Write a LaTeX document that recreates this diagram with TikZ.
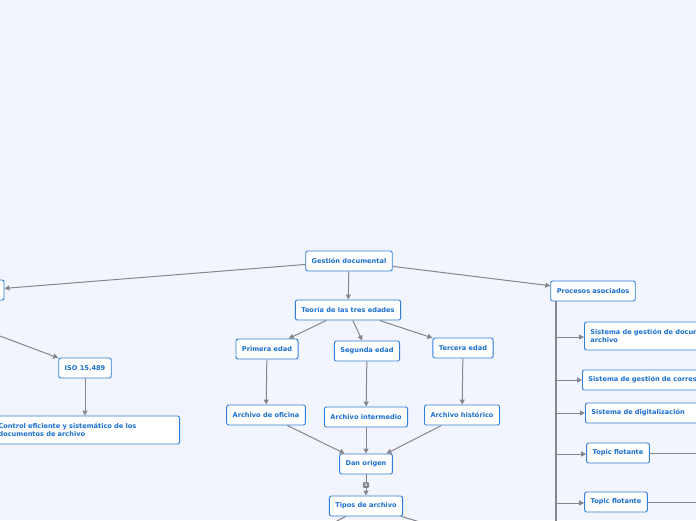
\documentclass[tikz,border=0pt]{standalone}
\usepackage{fontspec}
\setsansfont{DejaVu Sans}
\usetikzlibrary{arrows.meta}
\definecolor{bg}{HTML}{F2F5FE}
\definecolor{nb}{HTML}{2F7FD8}
\definecolor{nt}{HTML}{1A6FD1}
\definecolor{ln}{HTML}{85868C}
\tikzset{
 box/.style={draw=nb,line width=0.9pt,fill=white,rounded corners=2pt,font=\sffamily\bfseries\fontsize{6.6}{8}\selectfont,text=nt,inner xsep=6pt,minimum height=20pt},
 conn/.style={draw=ln,line width=1pt,-{Triangle[length=5pt,width=5pt]}},
 plain/.style={draw=ln,line width=1pt}
}
\begin{document}
\begin{tikzpicture}[x=1pt,y=-1pt]
\fill[bg] (0,0) rectangle (696,520);
\useasboundingbox (0,0) rectangle (696,520);
\clip (0,0) rectangle (696,520);
\node[box] (gd) at (349,261) {Gestión documental};
\node[box,minimum width=40pt] (left) at (-16,290) {};
\node[box] (teo) at (348,310) {Teoría de las tres edades};
\node[box] (pe) at (267,349) {Primera edad};
\node[box] (se) at (367,351) {Segunda edad};
\node[box] (te) at (463,348) {Tercera edad};
\node[box] (ao) at (266,415) {Archivo de oficina};
\node[box] (ai) at (366,417) {Archivo intermedio};
\node[box] (ah) at (462,415) {Archivo histórico};
\node[box] (do) at (366,464) {Dan origen};
\node[box] (ta) at (366,506) {Tipos de archivo};
\node[box] (iso) at (85,368) {ISO 15.489};
\node[box,align=left,text width=175pt,minimum height=28pt,anchor=east] (ce) at (180,430) {Control eficiente y sistemático de los\\documentos de archivo};
\node[box] (pa) at (593,291) {Procesos asociados};
\node[box,align=left,anchor=west,text width=150pt,minimum height=28pt] (s1) at (584,336) {Sistema de gestión de documentos de\\archivo};
\node[box,anchor=west,text width=150pt] (s2) at (582,380) {Sistema de gestión de correspondencia};
\node[box,anchor=west,text width=150pt] (s3) at (585,413) {Sistema de digitalización};
\node[box] (t1) at (618,453) {Topic flotante};
\node[box] (t2) at (616,502) {Topic flotante};
\coordinate (isoin) at (0,336);
\coordinate (t1r) at (700,453);
\coordinate (t2r) at (700,502);
\coordinate (tal) at (335,522);
\coordinate (tar) at (420,522);
\draw[conn] (gd) -- (left);
\draw[conn] (gd) -- (teo);
\draw[conn] (gd) -- (pa);
\draw[conn] (isoin) -- (iso);
\draw[conn] (iso) -- (ce.north -| iso);
\draw[conn] (teo) -- (pe);
\draw[conn] (teo) -- (se);
\draw[conn] (teo) -- (te);
\draw[conn] (pe) -- (ao);
\draw[conn] (se) -- (ai);
\draw[conn] (te) -- (ah);
\draw[conn] (ao) -- (do);
\draw[conn] (ai) -- (do);
\draw[conn] (ah) -- (do);
\draw[conn] (do) -- (ta);
\node[fill=ln,text=white,rounded corners=1pt,inner sep=1.5pt,font=\sffamily\fontsize{5}{6}\selectfont] (lab) at (366,485) {a};
\draw[plain] (ta) -- (tal);
\draw[plain] (ta) -- (tar);
\draw[plain] (t1) -- (t1r);
\draw[plain] (t2) -- (t2r);
\draw[draw=ln,line width=2.5pt] (556,301) -- (556,522);
\foreach \n/\y in {s1/337,s2/380,s3/413,t1/454,t2/503}{
 \draw[conn] (556,\y) -- (\n.west |- 0,\y);
}
\end{tikzpicture}
\end{document}
